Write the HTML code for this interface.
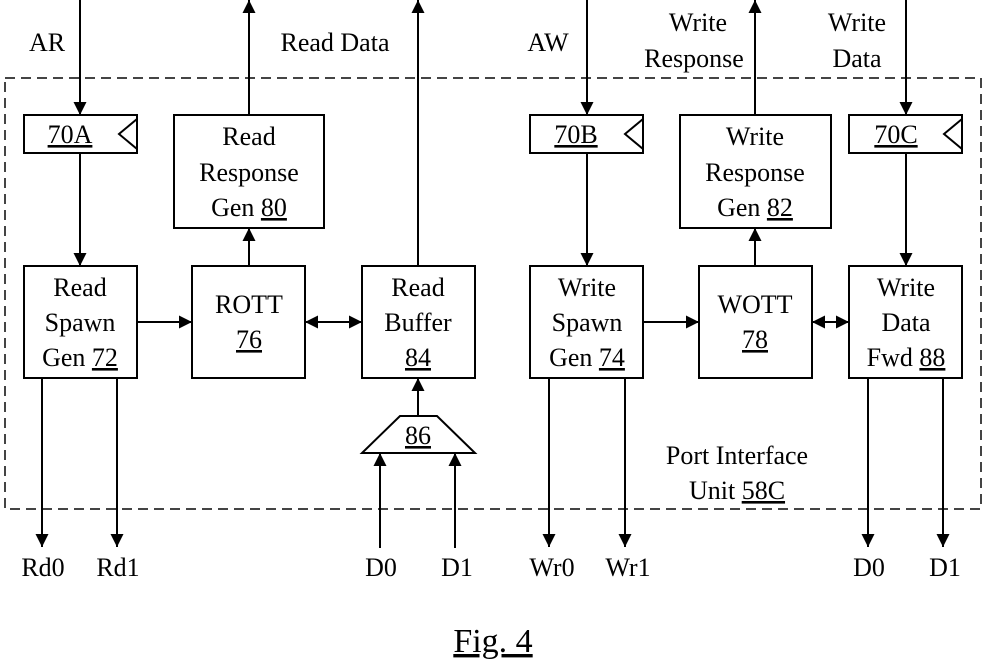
<!DOCTYPE html>
<html><head><meta charset="utf-8"><style>
html,body{margin:0;padding:0;background:#fff}
svg{display:block}
text{font-family:"Liberation Serif",serif;font-size:26px;fill:#000}
</style></head><body>
<svg width="986" height="663" viewBox="0 0 986 663" xmlns="http://www.w3.org/2000/svg">
<defs>
<marker id="a" viewBox="0 0 10 10" refX="10" refY="5" markerWidth="15" markerHeight="13" markerUnits="userSpaceOnUse" orient="auto"><path d="M0,0 L10,5 L0,10 z" fill="#000"/></marker>
</defs>
<rect x="5" y="78" width="976" height="431" fill="none" stroke="#444" stroke-width="2" stroke-dasharray="10,6"/>
<g fill="none" stroke="#000" stroke-width="2">
<rect x="24" y="115" width="113" height="38"/>
<rect x="174" y="115" width="150" height="113"/>
<rect x="24" y="266" width="113" height="112"/>
<rect x="192" y="266" width="113" height="112"/>
<rect x="362" y="266" width="113" height="112"/>
<rect x="530" y="115" width="113" height="38"/>
<rect x="680" y="115" width="151" height="113"/>
<rect x="849" y="115" width="113" height="38"/>
<rect x="530" y="266" width="113" height="112"/>
<rect x="699" y="266" width="113" height="112"/>
<rect x="849" y="266" width="113" height="112"/>
<polygon points="400,416 437,416 475,453 362,453"/>
<polyline points="137,119 119,134 137,149"/>
<polyline points="643,119 625,134 643,149"/>
<polyline points="962,119 944,134 962,149"/>
<line x1="80" y1="0" x2="80" y2="115" marker-end="url(#a)"/>
<line x1="80" y1="153" x2="80" y2="266" marker-end="url(#a)"/>
<line x1="249" y1="115" x2="249" y2="0" marker-end="url(#a)"/>
<line x1="249" y1="266" x2="249" y2="228" marker-end="url(#a)"/>
<line x1="418" y1="266" x2="418" y2="0" marker-end="url(#a)"/>
<line x1="418" y1="416" x2="418" y2="378" marker-end="url(#a)"/>
<line x1="137" y1="322" x2="192" y2="322" marker-end="url(#a)"/>
<line x1="320" y1="322" x2="362" y2="322" marker-end="url(#a)"/>
<line x1="340" y1="322" x2="305" y2="322" marker-end="url(#a)"/>
<line x1="42" y1="378" x2="42" y2="547" marker-end="url(#a)"/>
<line x1="117" y1="378" x2="117" y2="547" marker-end="url(#a)"/>
<line x1="380" y1="548" x2="380" y2="453" marker-end="url(#a)"/>
<line x1="455" y1="548" x2="455" y2="453" marker-end="url(#a)"/>
<line x1="587" y1="0" x2="587" y2="115" marker-end="url(#a)"/>
<line x1="587" y1="153" x2="587" y2="266" marker-end="url(#a)"/>
<line x1="755" y1="115" x2="755" y2="0" marker-end="url(#a)"/>
<line x1="755" y1="266" x2="755" y2="228" marker-end="url(#a)"/>
<line x1="906" y1="0" x2="906" y2="115" marker-end="url(#a)"/>
<line x1="906" y1="153" x2="906" y2="266" marker-end="url(#a)"/>
<line x1="643" y1="322" x2="699" y2="322" marker-end="url(#a)"/>
<line x1="826" y1="322" x2="849" y2="322" marker-end="url(#a)"/>
<line x1="836" y1="322" x2="812" y2="322" marker-end="url(#a)"/>
<line x1="549" y1="378" x2="549" y2="547" marker-end="url(#a)"/>
<line x1="625" y1="378" x2="625" y2="547" marker-end="url(#a)"/>
<line x1="868" y1="378" x2="868" y2="547" marker-end="url(#a)"/>
<line x1="943" y1="378" x2="943" y2="547" marker-end="url(#a)"/>
</g>
<g text-anchor="middle">
<text x="47" y="51">AR</text>
<text x="335" y="51">Read Data</text>
<text x="548" y="51">AW</text>
<text x="698" y="31">Write</text>
<text x="694" y="67">Response</text>
<text x="857" y="31">Write</text>
<text x="857" y="67">Data</text>
<text x="70" y="143" text-decoration="underline">70A</text>
<text x="576" y="143" text-decoration="underline">70B</text>
<text x="896" y="143" text-decoration="underline">70C</text>
<text x="249" y="145">Read</text>
<text x="249" y="181">Response</text>
<text x="249" y="216">Gen <tspan text-decoration="underline">80</tspan></text>
<text x="755" y="145">Write</text>
<text x="755" y="181">Response</text>
<text x="755" y="216">Gen <tspan text-decoration="underline">82</tspan></text>
<text x="80" y="296">Read</text>
<text x="80" y="331">Spawn</text>
<text x="80" y="366">Gen <tspan text-decoration="underline">72</tspan></text>
<text x="249" y="313">ROTT</text>
<text x="249" y="348" text-decoration="underline">76</text>
<text x="418" y="296">Read</text>
<text x="418" y="331">Buffer</text>
<text x="418" y="366" text-decoration="underline">84</text>
<text x="418" y="444" text-decoration="underline">86</text>
<text x="587" y="296">Write</text>
<text x="587" y="331">Spawn</text>
<text x="587" y="366">Gen <tspan text-decoration="underline">74</tspan></text>
<text x="755" y="313">WOTT</text>
<text x="755" y="348" text-decoration="underline">78</text>
<text x="906" y="296">Write</text>
<text x="906" y="331">Data</text>
<text x="906" y="366">Fwd <tspan text-decoration="underline">88</tspan></text>
<text x="737" y="464">Port Interface</text>
<text x="737" y="499">Unit <tspan text-decoration="underline">58C</tspan></text>
<text x="43" y="576">Rd0</text>
<text x="118" y="576">Rd1</text>
<text x="381" y="576">D0</text>
<text x="457" y="576">D1</text>
<text x="552" y="576">Wr0</text>
<text x="628" y="576">Wr1</text>
<text x="869" y="576">D0</text>
<text x="945" y="576">D1</text>
<text x="493" y="652" style="font-size:34px" text-decoration="underline">Fig. 4</text>
</g>
</svg>
</body></html>
